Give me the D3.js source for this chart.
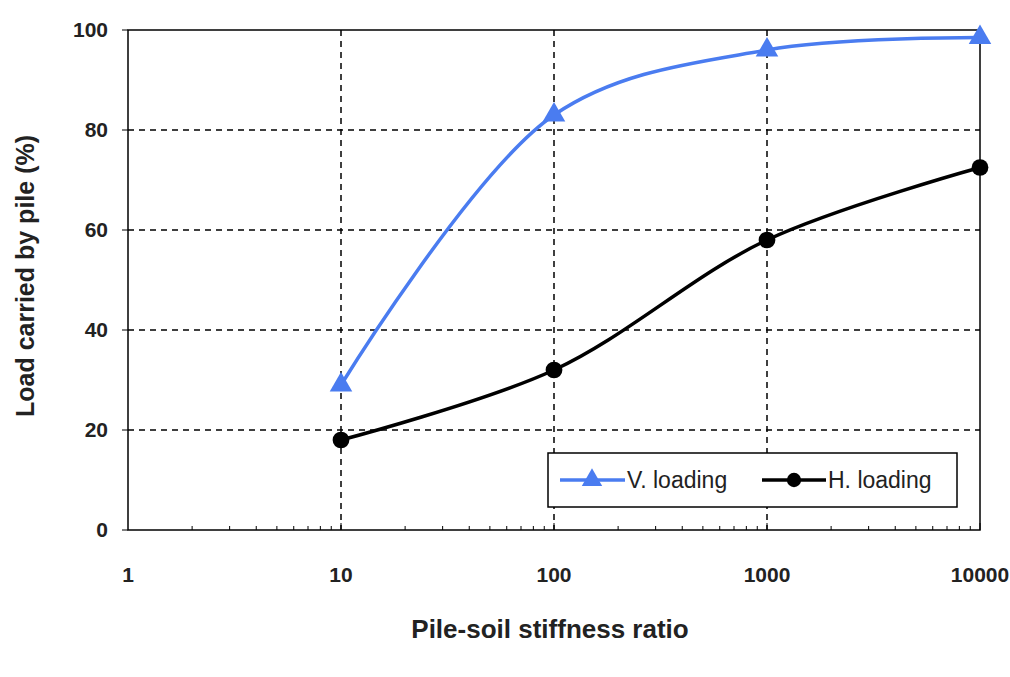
<!DOCTYPE html>
<html><head><meta charset="utf-8">
<script src="https://cdn.jsdelivr.net/npm/d3@7"></script>
<style>body{margin:0;background:#fff}svg{font-family:"Liberation Sans",Arial,sans-serif}</style>
</head><body><svg id="canvas" width="1010" height="677"></svg>
<script>
// values
var ratios = [10, 100, 1000, 10000];
var vLoading = [29, 83, 96, 98.5];
var hLoading = [18, 32, 58, 72.5];
var xTicks = [1, 10, 100, 1000, 10000];
var yTicks = [0, 20, 40, 60, 80, 100];

var svg = d3.select("#canvas");
var x = d3.scaleLog().domain([1, 10000]).range([128, 980]);
var y = d3.scaleLinear().domain([0, 100]).range([530, 30]);

// plot frame
svg.append("rect").attr("x", 128).attr("y", 30).attr("width", 852).attr("height", 500)
  .attr("fill", "none").attr("stroke", "#000").attr("stroke-width", 1.5);

// grid
svg.selectAll("line.gx").data(xTicks.slice(1, 4)).enter().append("line")
  .attr("x1", function(d) {return x(d)}).attr("x2", function(d) {return x(d)})
  .attr("y1", 30).attr("y2", 530)
  .attr("stroke", "#000").attr("stroke-width", 1.5).attr("stroke-dasharray", "6,5");
svg.selectAll("line.gy").data(yTicks.slice(1, 5)).enter().append("line")
  .attr("y1", function(d) {return y(d)}).attr("y2", function(d) {return y(d)})
  .attr("x1", 128).attr("x2", 980)
  .attr("stroke", "#000").attr("stroke-width", 1.5).attr("stroke-dasharray", "6,5");

// minor log ticks on the x axis
var minor = [];
[1, 10, 100, 1000].forEach(function(d) {for (var k = 2; k <= 10; k++) minor.push(d * k)});
svg.selectAll("line.mx").data(minor).enter().append("line")
  .attr("x1", function(d) {return x(d)}).attr("x2", function(d) {return x(d)})
  .attr("y1", 530).attr("y2", function(d) {return xTicks.indexOf(d) >= 0 ? 523 : 526})
  .attr("stroke", "#000");
svg.selectAll("line.ty").data(yTicks).enter().append("line")
  .attr("y1", function(d) {return y(d)}).attr("y2", function(d) {return y(d)})
  .attr("x1", 122).attr("x2", 128).attr("stroke", "#000");

svg.selectAll("text.xt").data(xTicks).enter().append("text")
  .attr("x", function(d) {return x(d)}).attr("y", 582).attr("text-anchor", "middle")
  .attr("font-size", 21).attr("font-weight", "bold").attr("fill", "#222").text(function(d) {return d});
svg.selectAll("text.yt").data(yTicks).enter().append("text")
  .attr("x", 108).attr("y", function(d) {return y(d) + 7}).attr("text-anchor", "end")
  .attr("font-size", 21).attr("font-weight", "bold").attr("fill", "#222").text(function(d) {return d});

svg.append("text").attr("x", 550).attr("y", 638).attr("text-anchor", "middle")
  .attr("font-size", 26).attr("font-weight", "bold").attr("fill", "#222").text("Pile-soil stiffness ratio");
svg.append("text").attr("transform", "translate(34,276) rotate(-90)").attr("text-anchor", "middle")
  .attr("font-size", 25).attr("font-weight", "bold").attr("fill", "#222").text("Load carried by pile (%)");

function series(vals, color, shape) {
  var pts = ratios.map(function(r, i) {return [x(r), y(vals[i])]});
  svg.append("path").attr("d", d3.line().curve(d3.curveCatmullRom.alpha(0.5))(pts))
    .attr("fill", "none").attr("stroke", color).attr("stroke-width", 3.5);
  svg.selectAll(null).data(pts).enter().append("path")
    .attr("transform", function(d) {return "translate(" + d[0] + "," + d[1] + ")"})
    .attr("d", d3.symbol().type(shape).size(220)).attr("fill", color);
}
series(vLoading, "#4a7cf0", d3.symbolTriangle);
series(hLoading, "#000", d3.symbolCircle);

// legend
var lg = svg.append("g");
lg.append("rect").attr("x", 548).attr("y", 453).attr("width", 409).attr("height", 54)
  .attr("fill", "#fff").attr("stroke", "#000").attr("stroke-width", 1.5);
lg.append("line").attr("x1", 560).attr("x2", 625).attr("y1", 480).attr("y2", 480).attr("stroke", "#4a7cf0").attr("stroke-width", 3.5);
lg.append("path").attr("transform", "translate(592,480)").attr("d", d3.symbol().type(d3.symbolTriangle).size(180)).attr("fill", "#4a7cf0");
lg.append("text").attr("x", 627).attr("y", 488).attr("font-size", 23).attr("fill", "#222").text("V. loading");
lg.append("line").attr("x1", 762).attr("x2", 826).attr("y1", 480).attr("y2", 480).attr("stroke", "#000").attr("stroke-width", 3.5);
lg.append("path").attr("transform", "translate(794,480)").attr("d", d3.symbol().type(d3.symbolCircle).size(160)).attr("fill", "#000");
lg.append("text").attr("x", 828).attr("y", 488).attr("font-size", 23).attr("fill", "#222").text("H. loading");
</script></body></html>
